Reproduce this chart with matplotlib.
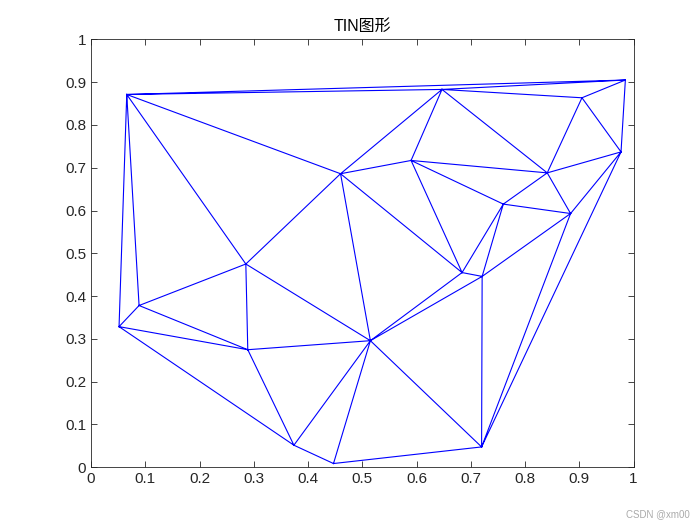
import numpy as np
import matplotlib.pyplot as plt
import matplotlib.tri as mtri
from matplotlib.ticker import FormatStrFormatter, FuncFormatter

plt.rcParams['font.family'] = ['Liberation Sans', 'Noto Sans CJK SC', 'DejaVu Sans']

# point coordinates
x = [0.0659, 0.985, 0.905, 0.977, 0.647, 0.460, 0.590, 0.841, 0.760, 0.884,
     0.684, 0.721, 0.2854, 0.0886, 0.0517, 0.289, 0.515, 0.374, 0.447, 0.720]
y = [0.8712, 0.905, 0.8635, 0.737, 0.883, 0.686, 0.717, 0.688, 0.615, 0.593,
     0.455, 0.446, 0.475, 0.378, 0.3286, 0.2747, 0.2958, 0.0515, 0.0087, 0.0475]

# triangles (point indices)
tris = [[0, 4, 1], [4, 2, 1], [2, 3, 1], [0, 5, 4], [5, 6, 4], [4, 6, 7],
        [4, 7, 2], [2, 7, 3], [7, 9, 3], [6, 8, 7], [8, 9, 7], [6, 10, 8],
        [10, 11, 8], [11, 9, 8], [11, 19, 9], [19, 3, 9], [5, 10, 6],
        [5, 16, 10], [16, 11, 10], [16, 19, 11], [16, 18, 19], [16, 17, 18],
        [15, 17, 16], [14, 17, 15], [12, 15, 16], [5, 12, 16], [0, 12, 5],
        [0, 13, 12], [13, 15, 12], [13, 14, 15], [0, 14, 13]]

fig = plt.figure(figsize=(7, 5.25), dpi=100)
ax = fig.add_axes([0.13, 0.11, 0.775, 0.815])

tri = mtri.Triangulation(x, y, tris)
ax.triplot(tri, color='#0000ff', lw=0.8)

ax.set_xlim(0, 1)
ax.set_ylim(0, 1)
ticks = np.arange(0, 1.01, 0.1)
ax.set_xticks(ticks)
ax.set_yticks(ticks)
fmt = FuncFormatter(lambda v, p: '%g' % round(v, 1))
ax.xaxis.set_major_formatter(fmt)
ax.yaxis.set_major_formatter(fmt)
ax.tick_params(direction='in', top=True, right=True, labelsize=11, length=4,
               width=0.6, colors='#262626')
for s in ax.spines.values():
    s.set_linewidth(0.6)
    s.set_color('#262626')
ax.set_title('TIN图形', fontsize=11.5, color='#000000', pad=6)

fig.text(0.985, 0.012, 'CSDN @xm00', ha='right', va='bottom', fontsize=7,
         color='#aaaaaa')

fig.savefig('out.png', dpi=100)
